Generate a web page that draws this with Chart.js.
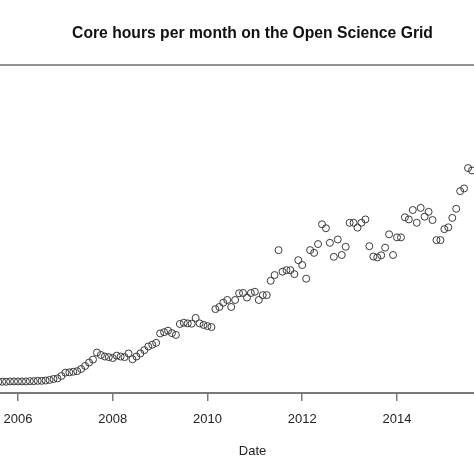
<!DOCTYPE html>
<html>
<head>
<meta charset="utf-8">
<script src="https://cdn.jsdelivr.net/npm/chart.js@4"></script>
<style>
  html, body { margin: 0; padding: 0; background: #ffffff; overflow: hidden; width: 474px; height: 474px; }
  #wrap { position: absolute; left: 0; top: 0; width: 505px; height: 474px; }
</style>
</head>
<body>
<div id="wrap"><canvas id="c" width="505" height="474"></canvas></div>
<script>
// Month of each observation (YYYY-MM)
const months = [
  "2005-08","2005-09","2005-10","2005-11","2005-12",
  "2006-01","2006-02","2006-03","2006-04","2006-05","2006-06","2006-07","2006-08","2006-09","2006-10","2006-11","2006-12",
  "2007-01","2007-02","2007-03","2007-04","2007-05","2007-06","2007-07","2007-08","2007-09","2007-10","2007-11","2007-12",
  "2008-01","2008-02","2008-03","2008-04","2008-05","2008-06","2008-07","2008-08","2008-09","2008-10","2008-11","2008-12",
  "2009-01","2009-02","2009-03","2009-04","2009-05","2009-06","2009-07","2009-08","2009-09","2009-10","2009-11","2009-12",
  "2010-01","2010-02","2010-03","2010-04","2010-05","2010-06","2010-07","2010-08","2010-09","2010-10","2010-11","2010-12",
  "2011-01","2011-02","2011-03","2011-04","2011-05","2011-06","2011-07","2011-08","2011-09","2011-10","2011-11","2011-12",
  "2012-01","2012-02","2012-03","2012-04","2012-05","2012-06","2012-07","2012-08","2012-09","2012-10","2012-11","2012-12",
  "2013-01","2013-02","2013-03","2013-04","2013-05","2013-06","2013-07","2013-08","2013-09","2013-10","2013-11","2013-12",
  "2014-01","2014-02","2014-03","2014-04","2014-05","2014-06","2014-07","2014-08","2014-09","2014-10","2014-11","2014-12",
  "2015-01","2015-02","2015-03","2015-04","2015-05","2015-06","2015-07","2015-08"
];

// Core hours per month (millions; y-axis not visible)
const coreHours = [
  0.1, 0.1, 0.1, 0.2, 0.2,
  0.2, 0.2, 0.2, 0.3, 0.3, 0.4, 0.4, 0.5, 0.7, 1.0, 1.2, 2.0,
  3.1, 3.2, 3.4, 3.6, 4.3, 5.3, 6.4, 7.4, 9.7, 8.9, 8.4, 8.2,
  7.9, 8.7, 8.4, 8.2, 9.4, 7.5, 8.4, 9.4, 10.5, 11.7, 12.3, 12.9,
  16.0, 16.4, 16.9, 16.1, 15.5, 19.1, 19.5, 19.3, 19.2, 21.1, 19.3, 18.8,
  18.4, 18.1, 24.0, 24.7, 26.1, 27.0, 24.7, 27.0, 29.2, 29.3, 27.8, 29.3,
  29.7, 27.0, 28.6, 28.6, 33.3, 35.2, 43.4, 36.3, 36.8, 36.8, 35.5, 40.1,
  38.5, 34.0, 43.4, 42.5, 45.4, 51.9, 50.6, 45.8, 41.2, 46.9, 41.8, 44.5,
  52.4, 52.4, 50.8, 52.4, 53.5, 44.7, 41.3, 41.0, 41.7, 44.2, 48.6, 41.8,
  47.6, 47.6, 54.2, 53.5, 56.6, 52.4, 57.3, 54.4, 56.0, 53.3, 46.7, 46.7,
  50.3, 50.9, 54.0, 57.0, 62.8, 63.7, 70.4, 69.6
];

// Tick labels on the date axis
const yearTicks = [2006, 2008, 2010, 2012, 2014];

const points = months.map((m, i) => {
  const [yy, mm] = m.split("-").map(Number);
  return { x: yy + (mm - 1) / 12, y: coreHours[i] };
});

const FONT = "'Liberation Sans', Arial, Helvetica, sans-serif";

function noSidePadding(s) {
  s.paddingLeft = 0;
  s.paddingRight = 0;
}

new Chart(document.getElementById("c"), {
  type: "scatter",
  data: {
    datasets: [{
      label: "Core hours",
      data: points,
      pointStyle: "circle",
      pointRadius: 3.5,
      pointHoverRadius: 3.5,
      pointBorderWidth: 1,
      pointBorderColor: "#3a3a3a",
      pointBackgroundColor: "rgba(0,0,0,0)",
      showLine: false
    }]
  },
  options: {
    responsive: false,
    animation: false,
    events: [],
    layout: { autoPadding: false, padding: { left: 0, right: 0, top: 0, bottom: 0 } },
    plugins: {
      legend: { display: false },
      tooltip: { enabled: false },
      title: {
        display: true,
        text: "Core hours per month on the Open Science Grid",
        color: "#111111",
        font: { family: FONT, size: 15.7, weight: "bold", lineHeight: 1.2 },
        padding: { top: 24.6, bottom: 21.56 }
      }
    },
    scales: {
      x: {
        type: "linear",
        position: "bottom",
        min: 2005.6201,
        max: 2016.2797,
        afterBuildTicks: (s) => { s.ticks = yearTicks.map(v => ({ value: v })); },
        afterFit: (s) => { s.height = 81; noSidePadding(s); },
        ticks: {
          color: "#222222",
          font: { family: FONT, size: 13 },
          padding: 11,
          maxRotation: 0,
          autoSkip: false,
          callback: (v) => String(v)
        },
        grid: {
          display: true,
          drawOnChartArea: false,
          drawTicks: true,
          tickLength: 8,
          color: "#7a7a7a",
          lineWidth: 1.5
        },
        border: { display: true, color: "#7a7a7a", width: 2 },
        title: {
          display: true,
          text: "Date",
          color: "#222222",
          font: { family: FONT, size: 13 },
          padding: { top: 4, bottom: 15 }
        }
      },
      xTop: {
        type: "linear",
        position: "top",
        min: 2005.6201,
        max: 2016.2797,
        afterFit: (s) => { s.height = 0; noSidePadding(s); },
        ticks: { display: false },
        grid: { display: false, drawTicks: false },
        border: { display: true, color: "#8e9493", width: 2 }
      },
      y: {
        type: "linear",
        display: false,
        min: -3.6,
        max: 104.3
      }
    }
  }
});
</script>
</body>
</html>
